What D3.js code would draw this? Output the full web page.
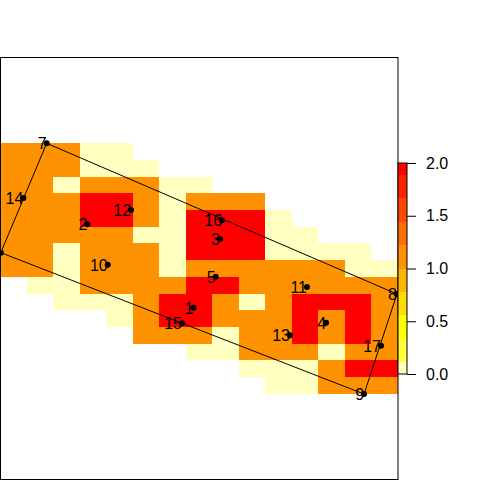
<!DOCTYPE html>
<html lang="en">
<head>
  <meta charset="UTF-8" />
  <title>Surface with hull</title>
  <script src="https://cdn.jsdelivr.net/npm/d3@7/dist/d3.min.js"></script>
  <style>
    html,body{margin:0;padding:0;background:#fff;overflow:hidden}
    svg{display:block}
    text{font-family:"Liberation Sans",Arial,sans-serif;fill:#000}
  </style>
</head>
<body>
  <svg id="chart" width="480" height="480"></svg>
  <script>
    /* ---------- DATA ---------- */
    // one string per row, top to bottom: . = no value, 0 1 2 = cell value
    const gridRows=[
      "11100..........",
      "111000.........",
      "11011100.......",
      "1112210111.....",
      "11122102220....",
      "111110022200...",
      "11011102220000.",
      "110111011111100",
      ".00111122111111",
      "..0001221012221",
      "....01221112121",
      ".....1110112121",
      ".......00111011",
      ".........000122",
      "..........00111"
    ];
    const pointIds=[1,2,3,4,5,6,7,8,9,10,11,12,13,14,15,16,17];
    const pointX=[7.29,3.29,8.29,12.29,8.13,0.03,1.76,14.96,13.72,4.06,11.57,4.94,10.93,0.88,6.86,8.37,14.36];
    const pointY=[9.85,4.85,5.73,10.75,7.99,6.55,0.00,9.03,15.02,7.27,8.61,3.99,11.50,3.28,10.78,4.61,12.13];
    const hullIds=[6,7,8,9];
    const hiddenLabels=[6]; // sits past the left edge, not visible in the plot
    const heatColors=["#FFFFBF","#FFFF40","#FFFF00","#FFDB00","#FFB600","#FF9200","#FF6D00","#FF4900","#FF2400","#FF0000"];
    const barTicks=[0,0.5,1,1.5,2];

    /* ---------- SCALES ---------- */
    const svg=d3.select("#chart");
    const x=d3.scaleLinear().domain([0,15]).range([0,398]);
    const y=d3.scaleLinear().domain([0,15]).range([143.3,393.7]);
    const barY=d3.scaleLinear().domain([0,2]).range([374,163]);
    const colorOf=v=>heatColors[Math.round(v/2*(heatColors.length-1))];

    /* ---------- CELLS ---------- */
    const cells=gridRows.flatMap((r,i)=>[...r].map((c,j)=>({i,j,c}))).filter(d=>d.c!==".");
    svg.append("g").attr("shape-rendering","crispEdges").selectAll("rect").data(cells).join("rect")
      .attr("x",d=>x(d.j)).attr("y",d=>y(d.i))
      .attr("width",d=>x(d.j+1)-x(d.j)).attr("height",d=>y(d.i+1)-y(d.i))
      .attr("fill",d=>colorOf(+d.c));

    /* ---------- BOX ---------- */
    svg.append("rect").attr("x",0.5).attr("y",57.5).attr("width",397.5).attr("height",422)
      .attr("fill","none").attr("stroke","#000");

    /* ---------- HULL + POINTS ---------- */
    const pts=pointIds.map((id,k)=>({id,px:x(pointX[k]),py:y(pointY[k])}));
    const hull=hullIds.map(id=>pts.find(p=>p.id===id));
    svg.append("path").attr("d",d3.line().x(p=>p.px).y(p=>p.py).curve(d3.curveLinearClosed)(hull))
      .attr("fill","none").attr("stroke","#000").attr("stroke-width",1);
    svg.append("g").selectAll("circle").data(pts).join("circle")
      .attr("cx",p=>p.px).attr("cy",p=>p.py).attr("r",3).attr("fill","#000");
    svg.append("g").selectAll("text").data(pts.filter(p=>!hiddenLabels.includes(p.id))).join("text")
      .attr("x",p=>p.px).attr("y",p=>p.py+6)
      .attr("text-anchor","end").attr("font-size",16)
      .text(p=>p.id);

    /* ---------- COLOUR BAR ---------- */
    const barW=9,barX=398;
    const step=2/(heatColors.length-1);
    const bar=svg.append("g");
    bar.append("g").attr("shape-rendering","crispEdges").selectAll("rect").data(heatColors).join("rect")
      .attr("x",barX)
      .attr("y",(c,k)=>barY(Math.min(2,k*step+step/2)))
      .attr("width",barW)
      .attr("height",(c,k)=>barY(Math.max(0,k*step-step/2))-barY(Math.min(2,k*step+step/2)))
      .attr("fill",c=>c);
    bar.append("rect").attr("x",barX).attr("y",barY(2)).attr("width",barW).attr("height",barY(0)-barY(2))
      .attr("fill","none").attr("stroke","#000");
    const axis=d3.axisRight(barY).tickValues(barTicks).tickFormat(d3.format(".1f")).tickSize(9).tickPadding(10);
    const axG=bar.append("g").attr("transform",`translate(${barX+barW},0)`).call(axis);
    axG.select(".domain").remove();
    axG.selectAll("line").attr("stroke","#000");
    axG.selectAll("text").attr("font-size",16).attr("font-family",null).attr("fill","#000");
  </script>
</body>
</html>
